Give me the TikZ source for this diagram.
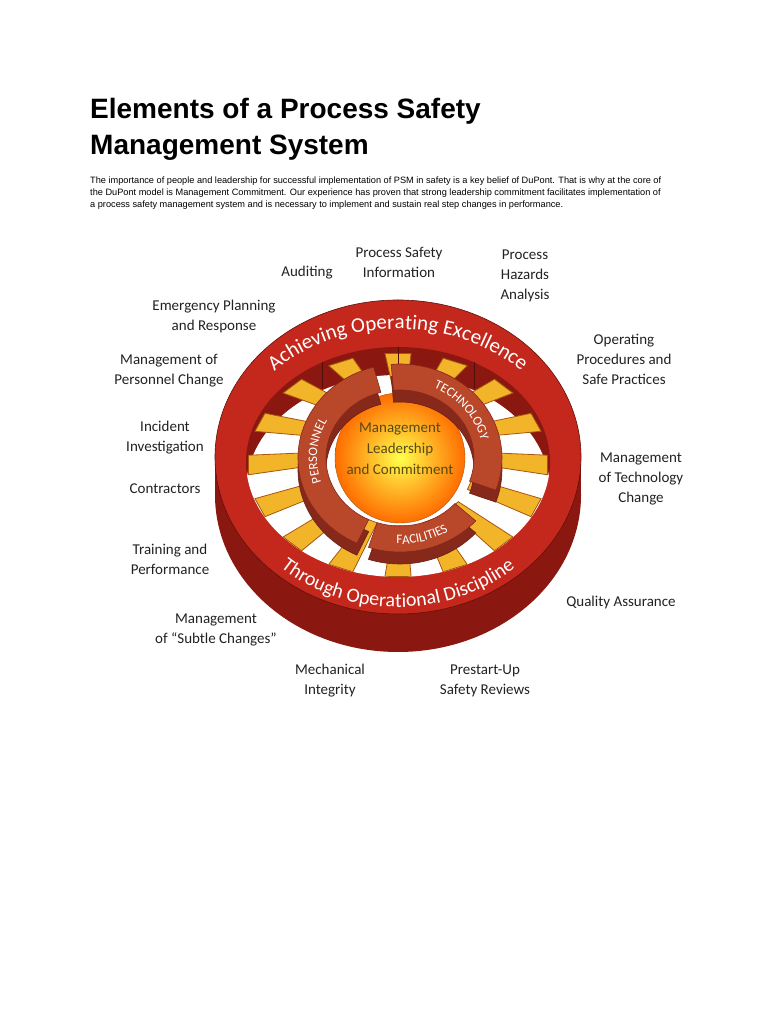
\documentclass[tikz,border=0pt]{standalone}
\usepackage{fontspec}
\setmainfont{Liberation Sans}
\newfontfamily\lab{Carlito}
\usetikzlibrary{decorations.text,calc}
\definecolor{ringred}{HTML}{C4281C}
\definecolor{ringdark}{HTML}{8A1710}
\definecolor{spokeY}{HTML}{F2B52A}
\definecolor{spokeE}{HTML}{A8560E}
\definecolor{arcB}{HTML}{B9472A}
\definecolor{arcD}{HTML}{86281A}
\definecolor{labc}{HTML}{222222}
\definecolor{olive}{HTML}{5A4A10}
\tikzset{
 lbl/.style={font=\lab\fontsize{15}{20}\selectfont, text=labc, align=center, inner sep=0pt},
 band/.style={fill=arcB, draw=arcD, line width=0.6pt},
 bandside/.style={fill=arcD, draw=arcD!80!black, line width=0.6pt},
}
\begin{document}
\begin{tikzpicture}[x=1pt,y=1pt]
\useasboundingbox (0,0) rectangle (768,1024);
\fill[white] (0,0) rectangle (768,1024);
% title and text
\node[anchor=west, font=\bfseries\fontsize{28}{36}\selectfont, align=left, inner sep=0pt] (title) at (90,895) {Elements of a Process Safety\\Management System};
\node[anchor=north west, font=\fontsize{9.2}{12}\selectfont, align=left, inner sep=0pt] (body) at (90,847) {The importance of people and leadership for successful implementation of PSM in safety is a key belief of DuPont. That is why at the core of\\the DuPont model is Management Commitment. Our experience has proven that strong leadership commitment facilitates implementation of\\a process safety management system and is necessary to implement and sustain real step changes in performance.};
% ring
\coordinate (C) at (398,567);
\fill[ringdark] (215,529) rectangle (581,567);
\fill[ringdark] (398,529) ellipse [x radius=183, y radius=157];
\fill[ringred] (C) ellipse [x radius=183, y radius=157];
\draw[ringdark!70!black, line width=0.6pt] (C) ellipse [x radius=183, y radius=157];
\fill[ringdark] (398,562) ellipse [x radius=152, y radius=115];
\begin{scope}
\clip (398,562) ellipse [x radius=152, y radius=115];
\fill[white] (398,534) ellipse [x radius=152, y radius=115];
\end{scope}
% spokes
\begin{scope}
\clip (398,562) ellipse [x radius=152, y radius=115];
\foreach \a in {0,22.5,...,359} {
 \path[fill=spokeY, draw=spokeE, line width=0.8pt]
   ($(398,559)+(\a-5:150 and 112)$) -- ($(398,559)+(\a+5:150 and 112)$)
   -- ($(400,566)+(\a+5:76 and 68)$) -- ($(400,566)+(\a-5:76 and 68)$) -- cycle;
}
\end{scope}
% inner wall lines
\foreach \a in {60,90,120} \draw[ringdark!60!black, line width=0.8pt] ($(398,562)+(\a:152 and 115)$) -- ++(0,-26);
% ball
\shade[inner color=yellow!70!white, outer color=orange!85!red, draw=spokeE] (400,566) circle [radius=65];
% inner arcs
\foreach \s/\e in {245/105, 95/-20, 252/318} {
 \path[bandside] ($(400,554)+(\s:102 and 94)$) arc[start angle=\s, end angle=\e, x radius=102, y radius=94]
   -- ($(400,554)+(\e:74 and 68)$) arc[start angle=\e, end angle=\s, x radius=74, y radius=68] -- cycle;
 \path[band] ($(400,566)+(\s:102 and 94)$) arc[start angle=\s, end angle=\e, x radius=102, y radius=94]
   -- ($(400,566)+(\e:74 and 68)$) arc[start angle=\e, end angle=\s, x radius=74, y radius=68] -- cycle;
}
% curved texts
\path[decorate, decoration={text along path, text align=center, text={|\lab\fontsize{21}{21}\selectfont\color{white}|Achieving Operating Excellence}}]
 ($(C)+(160:166 and 128)$) arc[start angle=160, end angle=20, x radius=166, y radius=128];
\path[decorate, decoration={text along path, text align=center, text={|\lab\fontsize{20}{20}\selectfont\color{white}|Through Operational Discipline}}]
 ($(C)+(202:174 and 150)$) arc[start angle=202, end angle=338, x radius=174, y radius=150];
\path[decorate, decoration={text along path, text align=center, text={|\lab\fontsize{13}{13}\selectfont\color{white}|PERSONNEL}}]
 ($(400,566)+(235:83 and 77)$) arc[start angle=235, end angle=115, x radius=83, y radius=77];
\path[decorate, decoration={text along path, text align=center, text={|\lab\fontsize{13}{13}\selectfont\color{white}|TECHNOLOGY}}]
 ($(400,566)+(92:83 and 77)$) arc[start angle=92, end angle=-15, x radius=83, y radius=77];
\path[decorate, decoration={text along path, text align=center, text={|\lab\fontsize{13}{13}\selectfont\color{white}|FACILITIES}}]
 ($(400,566)+(246:92 and 86)$) arc[start angle=246, end angle=324, x radius=92, y radius=86];
\node[font=\lab\fontsize{15}{21}\selectfont, text=olive, align=center] (core) at (400,575) {Management\\Leadership\\and Commitment};
% labels
\node[lbl] (psi) at (399,762) {Process Safety\\Information};
\node[lbl] (aud) at (307,751) {Auditing};
\node[lbl] (pha) at (525,748) {Process\\Hazards\\Analysis};
\node[lbl] (epr) at (214,707) {Emergency Planning\\and Response};
\node[lbl] (mpc) at (169,653) {Management of\\Personnel Change};
\node[lbl] (ops) at (624,665) {Operating\\Procedures and\\Safe Practices};
\node[lbl] (inv) at (165,586) {Incident\\Investigation};
\node[lbl] (con) at (165,535) {Contractors};
\node[lbl] (mtc) at (641,545) {Management\\of Technology\\Change};
\node[lbl] (trp) at (170,465) {Training and\\Performance};
\node[lbl] (qa) at (621,421) {Quality Assurance};
\node[lbl] (msc) at (216,394) {Management\\of “Subtle Changes”};
\node[lbl] (mi) at (330,343) {Mechanical\\Integrity};
\node[lbl] (psr) at (485,343) {Prestart-Up\\Safety Reviews};
\end{tikzpicture}
\end{document}
